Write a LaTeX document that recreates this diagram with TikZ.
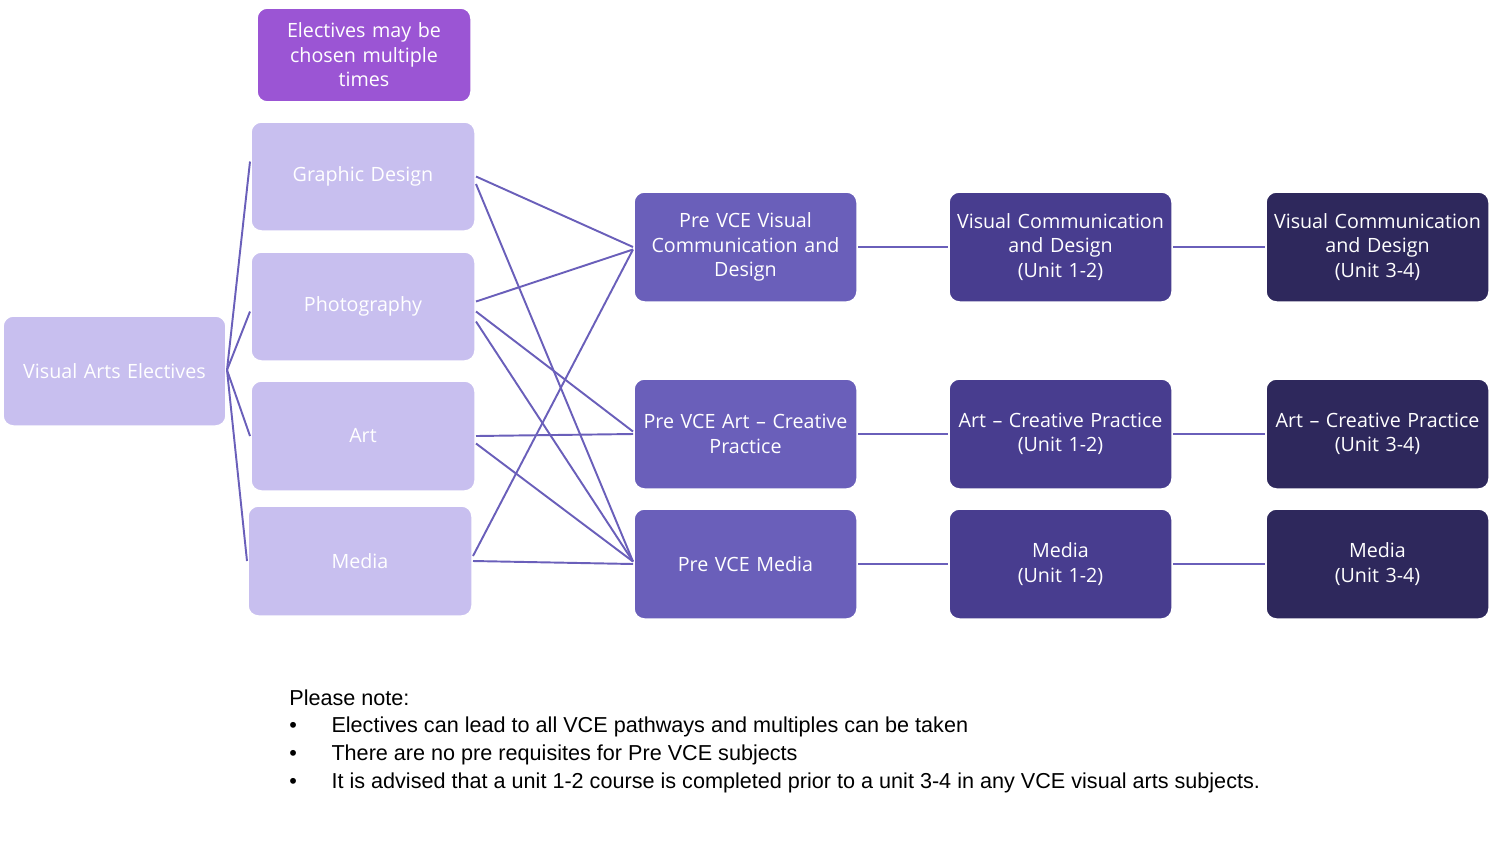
\documentclass[tikz,border=0pt]{standalone}
\usepackage{fontspec}
\setmainfont{Open Sans}
\newfontfamily\arialf{Liberation Sans}
\definecolor{note}{HTML}{9B55D4}
\definecolor{lav}{HTML}{C8BFEF}
\definecolor{pre}{HTML}{6A5FBA}
\definecolor{uone}{HTML}{483D8F}
\definecolor{uthree}{HTML}{2E285C}
\definecolor{ln}{HTML}{6A5FBA}
\begin{document}
\begin{tikzpicture}[x=0.02cm,y=-0.02cm,
  box/.style={draw=white,line width=1pt,rounded corners=6pt,text=white,align=center,font=\fontsize{11.2}{14}\selectfont,inner sep=2pt},
  con/.style={draw=ln,line width=1.1pt}]
\useasboundingbox (0,0) rectangle (1500,846);
\newcommand\bx[7]{\node[box,fill=#6,minimum width=#3*0.02cm-1pt,minimum height=#4*0.02cm-1pt,text width=#3*0.02cm-10pt] (#5) at (#1+#3/2,#2+#4/2) {#7};}
\bx{256}{7}{216}{96}{note}{note}{Electives may be\\chosen multiple\\times}
\bx{2}{315}{225}{112}{vae}{lav}{Visual Arts Electives}
\bx{250}{121}{226}{111}{gd}{lav}{Graphic Design}
\bx{250}{251}{226}{111}{ph}{lav}{Photography}
\bx{250}{380}{226}{112}{art}{lav}{Art}
\bx{247}{505}{226}{112}{med}{lav}{Media}
\bx{633}{191}{225}{112}{pv}{pre}{Pre VCE Visual\\Communication and\\Design}
\bx{633}{378}{225}{112}{pa}{pre}{Pre VCE Art -- Creative\\Practice}
\bx{633}{508}{225}{112}{pm}{pre}{Pre VCE Media}
\bx{948}{191}{225}{112}{av}{uone}{Visual Communication\\and Design\\(Unit 1-2)}
\bx{948}{378}{225}{112}{aa}{uone}{Art -- Creative Practice\\(Unit 1-2)}
\bx{948}{508}{225}{112}{am}{uone}{Media\\(Unit 1-2)}
\bx{1265}{191}{225}{112}{bv}{uthree}{Visual Communication\\and Design\\(Unit 3-4)}
\bx{1265}{378}{225}{112}{ba}{uthree}{Art -- Creative Practice\\(Unit 3-4)}
\bx{1265}{508}{225}{112}{bm}{uthree}{Media\\(Unit 3-4)}
% connectors
\coordinate (v0) at (227,370);
\draw[con] (v0) -- ([yshift=0.3cm]gd.west);
\draw[con] (v0) -- ([yshift=-0.1cm]ph.west);
\draw[con] (v0) -- (art.west);
\draw[con] (v0) -- (med.west);
\draw[con] ([yshift=0pt]gd.east) -- ([yshift=0pt]pv.west);
\draw[con] ([yshift=-0.15cm]gd.east) -- ([yshift=0.05cm]pm.west);
\draw[con] ([yshift=0.1cm]ph.east) -- ([yshift=-0.05cm]pv.west);
\draw[con] ([yshift=-0.1cm]ph.east) -- ([yshift=0.05cm]pa.west);
\draw[con] ([yshift=-0.3cm]ph.east) -- ([yshift=0.05cm]pm.west);
\draw[con] (art.east) -- (pa.west);
\draw[con] ([yshift=-0.15cm]art.east) -- ([yshift=0.05cm]pm.west);
\draw[con] ([yshift=0.1cm]med.east) -- ([yshift=-0.05cm]pv.west);
\draw[con] (med.east) -- (pm.west);
\foreach \a/\b in {pv/av,av/bv,pa/aa,aa/ba,pm/am,am/bm} \draw[con] (\a.east) -- (\b.west);
% note
\node[anchor=north west,align=left,inner sep=0pt,font=\arialf\fontsize{12.3}{15.9}\selectfont] (txt) at (289,689) {Please note:\\
\makebox[24pt][l]{•}Electives can lead to all VCE pathways and multiples can be taken\\
\makebox[24pt][l]{•}There are no pre requisites for Pre VCE subjects\\
\makebox[24pt][l]{•}It is advised that a unit 1-2 course is completed prior to a unit 3-4 in any VCE visual arts subjects.};
\end{tikzpicture}
\end{document}
